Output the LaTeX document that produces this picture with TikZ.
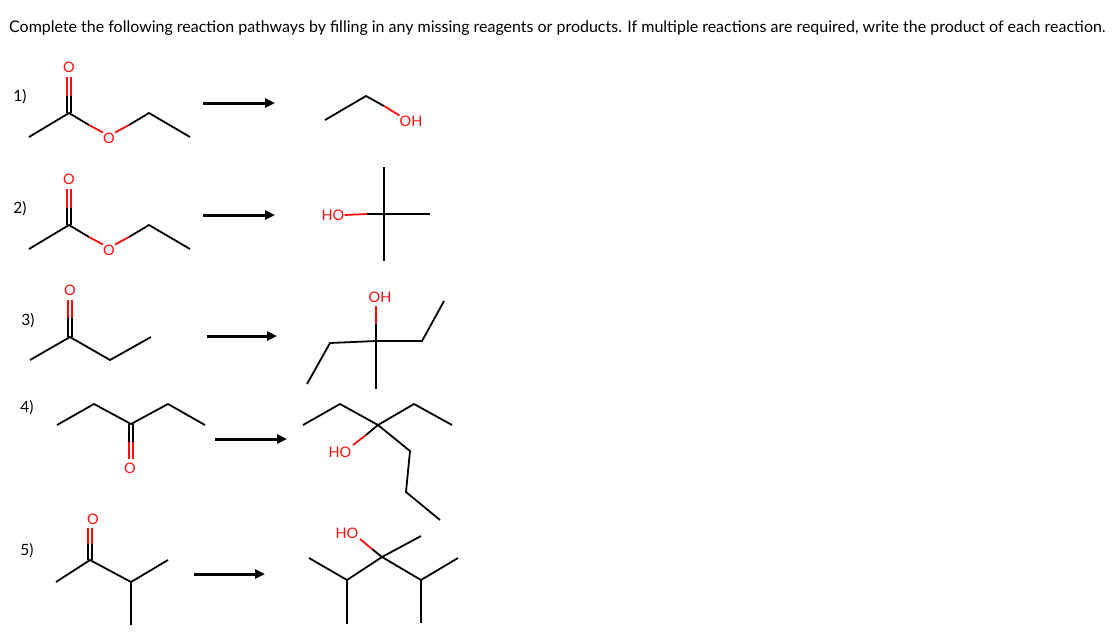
\documentclass[tikz,border=0pt]{standalone}
\usepackage{fontspec}
\setmainfont{Lato}
\usetikzlibrary{arrows.meta}
\definecolor{ored}{RGB}{255,13,13}
\begin{document}
\begin{tikzpicture}[x=1pt,y=-1pt,
  bond/.style={line width=1.8pt},
  rbond/.style={line width=1.8pt,draw=ored},
  atom/.style={text=ored,font=\fontsize{14.5}{15}\selectfont,inner sep=0pt},
  num/.style={font=\fontsize{15.5}{16}\selectfont,inner sep=0pt},
  rxn/.style={line width=3pt,-{Triangle[length=10pt,width=9pt]}}]
\useasboundingbox (0,0) rectangle (1113,633);
\node[anchor=west,inner sep=0pt,font=\fontsize{15.97}{17}\selectfont] (title) at (9,28) {Complete the following reaction pathways by filling in any missing reagents or products. If multiple reactions are required, write the product of each reaction.};
% ---- 1 and 2
\node[num] (n1) at (20,97) {1)};
\foreach \dy/\k in {0/a,112/b}{
\begin{scope}[yshift=-\dy]
\coordinate (m\k1) at (29,137); \coordinate (m\k2) at (69,113);
\coordinate (m\k3) at (109,137); \coordinate (m\k4) at (149,113); \coordinate (m\k5) at (190,137);
\node[atom] (o\k) at (69,67) {O};
\node[atom] (oe\k) at (109,138) {O};
\draw[bond] (m\k1)--(m\k2)--(89,125);
\draw[rbond] (89,125)--(oe\k.north west);
\draw[rbond] (oe\k.north east)--(129,125);
\draw[bond] (129,125)--(m\k4)--(m\k5);
\draw[bond] (67,113)--(67,96) (71,113)--(71,96);
\draw[rbond] (67,96)--(67,77) (71,96)--(71,77);
\end{scope}}
\node[num] (n2) at (20,209) {2)};
\coordinate (a1s) at (203,103); \coordinate (a1e) at (275,103);
\draw[rxn] (a1s)--(a1e);
\coordinate (a2s) at (203,215); \coordinate (a2e) at (275,215);
\draw[rxn] (a2s)--(a2e);
% product 1
\node[atom] (p1oh) at (411,121) {OH};
\coordinate (p11) at (325,120); \coordinate (p12) at (366,96);
\draw[bond] (p11)--(p12)--(384,106);
\draw[rbond] (384,106)--(p1oh.north west);
% product 2
\node[atom] (p2ho) at (333,215) {HO};
\coordinate (p2c) at (384,214);
\draw[bond] (p2c)--(384,167) (p2c)--(384,261) (p2c)--(430,214) (p2c)--(367,214);
\draw[rbond] (367,214)--(p2ho.east);
% ---- 3
\node[num] (n3) at (28,321) {3)};
\node[atom] (o3) at (70,290) {O};
\coordinate (c3) at (70,337);
\draw[bond] (30,360)--(c3)--(110,360)--(151,337);
\draw[bond] (68,337)--(68,318) (72,337)--(72,318);
\draw[rbond] (68,318)--(68,300) (72,318)--(72,300);
\coordinate (a3s) at (207,336); \coordinate (a3e) at (277,336);
\draw[rxn] (a3s)--(a3e);
\node[atom] (p3oh) at (380,297) {OH};
\coordinate (p3c) at (376,341);
\draw[rbond] (376,306)--(376,324);
\draw[bond] (376,324)--(p3c)--(376,389);
\draw[bond] (307,384)--(330,343)--(p3c)--(422,341)--(444,301);
% ---- 4
\node[num] (n4) at (27,408) {4)};
\coordinate (c4) at (131,424);
\draw[bond] (57,425)--(94,404)--(c4)--(168,404)--(205,425);
\node[atom] (o4) at (130,468) {O};
\draw[bond] (129,424)--(129,442) (133,424)--(133,442);
\draw[rbond] (129,442)--(129,459) (133,442)--(133,459);
\coordinate (a4s) at (215,439); \coordinate (a4e) at (287,439);
\draw[rxn] (a4s)--(a4e);
\coordinate (p4c) at (378,425);
\node[atom] (p4ho) at (340,452) {HO};
\draw[bond] (303,425)--(340,404)--(p4c)--(414,404)--(452,425);
\draw[bond] (p4c)--(410,451)--(406,492)--(440,520);
\draw[bond] (p4c)--(366,435);
\draw[rbond] (366,435)--(353,445);
% ---- 5
\node[num] (n5) at (27,551) {5)};
\node[atom] (o5) at (93,519) {O};
\coordinate (c5) at (90,560); \coordinate (ch5) at (131,582);
\draw[bond] (56,582)--(c5)--(ch5)--(168,560) (ch5)--(131,625);
\draw[bond] (88,560)--(88,544) (92,560)--(92,544);
\draw[rbond] (88,544)--(88,528) (92,544)--(92,528);
\coordinate (a5s) at (194,574); \coordinate (a5e) at (265,574);
\draw[rxn] (a5s)--(a5e);
\coordinate (p5c) at (382,557);
\node[atom] (p5ho) at (347,533) {HO};
\draw[bond] (p5c)--(421,536);
\draw[bond] (p5c)--(372,549);
\draw[rbond] (372,549)--(360,539);
\draw[bond] (309,558)--(347,580)--(p5c)--(421,580)--(458,558);
\draw[bond] (347,580)--(347,624) (421,580)--(421,623);
\end{tikzpicture}
\end{document}
